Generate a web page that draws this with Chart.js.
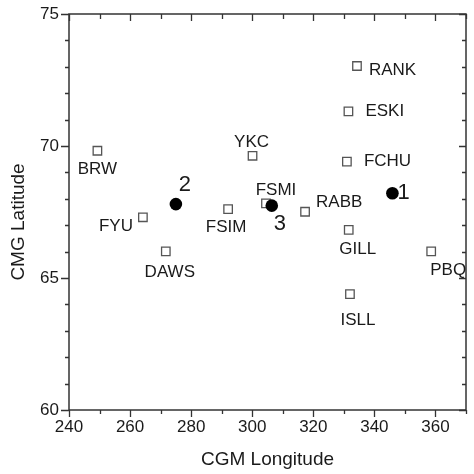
<!DOCTYPE html>
<html><head><meta charset="utf-8">
<script src="https://cdn.jsdelivr.net/npm/chart.js@4"></script>
<style>html,body{margin:0;padding:0;background:#fff}#wrap{width:474px;height:474px;position:relative}</style>
</head><body><div id="wrap"><canvas id="c"></canvas></div>
<script>
// ---- data ----
const stationNames = ['BRW','FYU','DAWS','FSIM','YKC','FSMI','RABB','RANK','ESKI','FCHU','GILL','ISLL','PBQ'];
const stationLon   = [249.3, 264.2, 271.7, 292.1, 300.1, 304.5, 317.3, 334.3, 331.5, 331.0, 331.6, 332.0, 358.6];
const stationLat   = [69.82, 67.30, 66.01, 67.61, 69.63, 67.83, 67.51, 73.03, 71.31, 69.41, 66.82, 64.39, 66.01];
const eventNames = ['1','2','3'];
const eventLon   = [345.9, 275.0, 306.4];
const eventLat   = [68.21, 67.80, 67.74];
const xTickLabels = [240, 260, 280, 300, 320, 340, 360];
const yTickLabels = [60, 65, 70, 75];
const xTitle = 'CGM Longitude';
const yTitle = 'CMG Latitude';

// ---- label placement (layout only) ----
const stationPlace = {
  BRW:{dx:0,dy:19,a:'center'}, FYU:{dx:-10,dy:9,a:'right'}, DAWS:{dx:4,dy:21,a:'center'},
  FSIM:{dx:-2,dy:18,a:'center'}, YKC:{dx:-1,dy:-13,a:'center'}, FSMI:{dx:10,dy:-13,a:'center'},
  RABB:{dx:11,dy:-9,a:'left'}, RANK:{dx:12,dy:4,a:'left'}, ESKI:{dx:17,dy:0,a:'left'},
  FCHU:{dx:17,dy:0,a:'left'}, GILL:{dx:9,dy:19,a:'center'}, ISLL:{dx:8,dy:26,a:'center'},
  PBQ:{dx:17,dy:19,a:'center'}
};
const eventPlace = { '1':{dx:5,dy:0,a:'left'}, '2':{dx:9,dy:-19,a:'center'}, '3':{dx:8,dy:18,a:'center'} };

const FONT = "'Liberation Sans', Arial, Helvetica, sans-serif";
const INK = '#1a1a1a';

const decor = {
  id: 'decor',
  afterDraw(chart) {
    const ctx = chart.ctx, ca = chart.chartArea;
    const xs = chart.scales.x, ys = chart.scales.y;
    ctx.save();
    ctx.strokeStyle = '#333';
    ctx.lineWidth = 1.5;
    ctx.strokeRect(ca.left, ca.top, ca.right - ca.left, ca.bottom - ca.top);
    ctx.lineWidth = 1.3;
    ctx.beginPath();
    for (let v = xs.min; v <= xs.max + 1e-9; v += 10) {
      const px = Math.round(xs.getPixelForValue(v)) + 0.5;
      const major = v % 20 === 0;
      const lb = major ? 7 : 4, lt = major ? 7 : 5;
      ctx.moveTo(px, ca.bottom); ctx.lineTo(px, ca.bottom + lb);
      ctx.moveTo(px, ca.top); ctx.lineTo(px, ca.top + lt);
    }
    for (let v = ys.min; v <= ys.max + 1e-9; v += 1) {
      const py = Math.round(ys.getPixelForValue(v)) + 0.5;
      const major = v % 5 === 0;
      const l = major ? 8 : 4, r = major ? 7 : 4;
      ctx.moveTo(ca.left, py); ctx.lineTo(ca.left - l, py);
      ctx.moveTo(ca.right, py); ctx.lineTo(ca.right - r, py);
    }
    ctx.stroke();

    // point labels
    ctx.fillStyle = INK;
    ctx.textBaseline = 'middle';
    const m0 = chart.getDatasetMeta(1);
    ctx.font = '17px ' + FONT;
    stationNames.forEach((n, i) => {
      const el = m0.data[i], p = stationPlace[n];
      ctx.textAlign = p.a;
      ctx.fillText(n, el.x + p.dx, el.y + p.dy);
    });
    const m1 = chart.getDatasetMeta(0);
    ctx.font = '22px ' + FONT;
    eventNames.forEach((n, i) => {
      const el = m1.data[i], p = eventPlace[n];
      ctx.textAlign = p.a;
      ctx.fillText(n, el.x + p.dx, el.y + p.dy);
    });

    // y title
    ctx.font = '19px ' + FONT;
    ctx.textAlign = 'center';
    ctx.save();
    ctx.translate(19, (ca.top + ca.bottom) / 2 + 10);
    ctx.rotate(-Math.PI / 2);
    ctx.fillText(yTitle, 0, 0);
    ctx.restore();
    ctx.restore();
  }
};

new Chart(document.getElementById('c'), {
  type: 'scatter',
  data: {
    datasets: [
      {
        label: 'events',
        data: eventLon.map((x, i) => ({ x, y: eventLat[i] })),
        pointStyle: 'circle', pointRadius: 6.3,
        backgroundColor: '#000', borderColor: '#000', borderWidth: 0
      },
      {
        label: 'stations',
        data: stationLon.map((x, i) => ({ x, y: stationLat[i] })),
        pointStyle: 'rect', pointRadius: 6,
        backgroundColor: '#fff', borderColor: '#555', borderWidth: 1.3
      }
    ]
  },
  options: {
    responsive: true, maintainAspectRatio: false, animation: false,
    layout: { padding: { top: 14, right: 8, left: 0, bottom: 0 } },
    plugins: { legend: { display: false }, tooltip: { enabled: false } },
    scales: {
      x: {
        type: 'linear', min: 240, max: 370,
        afterBuildTicks: s => { s.ticks = xTickLabels.map(v => ({ value: v })); },
        afterFit: s => { s.height = 64; s.paddingLeft = 0; s.paddingRight = 0; },
        grid: { display: false, drawTicks: false },
        border: { display: false },
        ticks: { padding: 7, color: INK, font: { family: FONT, size: 17 }, maxRotation: 0 },
        title: { display: true, text: xTitle, color: INK, font: { family: FONT, size: 19 }, padding: { top: 0, bottom: 3 } }
      },
      y: {
        type: 'linear', min: 60, max: 75,
        afterBuildTicks: s => { s.ticks = yTickLabels.map(v => ({ value: v })); },
        afterFit: s => { s.width = 69; s.paddingTop = 0; s.paddingBottom = 0; },
        grid: { display: false, drawTicks: false },
        border: { display: false },
        ticks: { padding: 10, color: INK, font: { family: FONT, size: 17 } },
        title: { display: false }
      }
    }
  },
  plugins: [decor]
});
</script>
</body></html>
